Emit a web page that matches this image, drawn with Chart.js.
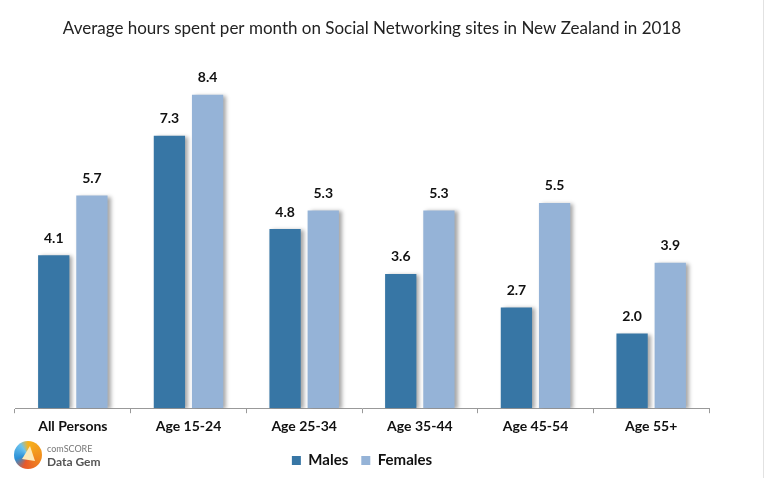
<!DOCTYPE html>
<html lang="en">
<head>
    <meta charset="UTF-8">
    <title>Social Networking hours NZ 2018</title>
    <script src="https://cdn.jsdelivr.net/npm/chart.js"></script>
    <style>
        html, body {
            margin: 0;
            padding: 0;
            background: #fff;
        }
        #wrap {
            width: 764px;
            height: 478px;
            position: relative;
            box-sizing: border-box;
            border-right: 1px solid #e2e2e2;
        }
    </style>
</head>
<body>
    <div id="wrap">
        <canvas id="chart"></canvas>
    </div>

    <script>
        // data
        const categories = ['All Persons', 'Age 15-24', 'Age 25-34', 'Age 35-44', 'Age 45-54', 'Age 55+'];
        const males = [4.1, 7.3, 4.8, 3.6, 2.7, 2.0];
        const females = [5.7, 8.4, 5.3, 5.3, 5.5, 3.9];
        const seriesNames = ['Males', 'Females'];
        const titleText = 'Average hours spent per month on Social Networking sites in New Zealand in 2018';

        const FONT = 'Lato, "Open Sans", sans-serif';

        // title drawn by hand so it sits where the original puts it
        const titlePlugin = {
            id: 'titleText',
            afterDraw(chart) {
                const ctx = chart.ctx;
                ctx.save();
                ctx.font = '17px ' + FONT;
                ctx.fillStyle = '#222';
                ctx.textAlign = 'center';
                ctx.textBaseline = 'middle';
                ctx.fillText(titleText, 372, 29);
                ctx.restore();
            }
        };

        // soft shadow behind the bars
        const shadowPlugin = {
            id: 'barShadow',
            beforeDatasetsDraw(chart) {
                const ctx = chart.ctx;
                ctx.save();
                ctx.shadowColor = 'rgba(0,0,0,0.35)';
                ctx.shadowBlur = 4;
                ctx.shadowOffsetX = 3;
                ctx.shadowOffsetY = 1;
            },
            afterDatasetsDraw(chart) {
                chart.ctx.restore();
            }
        };

        // value on top of every bar
        const valuePlugin = {
            id: 'valueLabels',
            afterDatasetsDraw(chart) {
                const ctx = chart.ctx;
                ctx.save();
                ctx.font = 'bold 14px ' + FONT;
                ctx.fillStyle = '#111';
                ctx.textAlign = 'center';
                ctx.textBaseline = 'bottom';
                chart.data.datasets.forEach((ds, i) => {
                    chart.getDatasetMeta(i).data.forEach((bar, j) => {
                        ctx.fillText(ds.data[j].toFixed(1), bar.x, bar.y - 10);
                    });
                });
                ctx.restore();
            }
        };

        // comScore Data Gem mark, bottom left
        const logoPlugin = {
            id: 'logo',
            afterDraw(chart) {
                const ctx = chart.ctx;
                const cx = 28, cy = 455, r = 14;
                ctx.save();
                const g = ctx.createConicGradient(-Math.PI / 2, cx, cy);
                g.addColorStop(0, '#f7b21c');
                g.addColorStop(0.3, '#f08a1d');
                g.addColorStop(0.55, '#e8582a');
                g.addColorStop(0.7, '#2a8fd6');
                g.addColorStop(0.9, '#6cc3ee');
                g.addColorStop(1, '#f7b21c');
                ctx.fillStyle = g;
                ctx.beginPath();
                ctx.arc(cx, cy, r, 0, Math.PI * 2);
                ctx.fill();
                ctx.fillStyle = '#fde9b8';
                ctx.beginPath();
                ctx.moveTo(cx + 2, cy - 9);
                ctx.lineTo(cx + 7, cy + 6);
                ctx.lineTo(cx - 6, cy + 4);
                ctx.closePath();
                ctx.fill();
                ctx.fillStyle = '#777';
                ctx.font = '9px ' + FONT;
                ctx.textBaseline = 'middle';
                ctx.fillText('comSCORE', 47, 449);
                ctx.fillStyle = '#555';
                ctx.font = 'bold 12px ' + FONT;
                ctx.fillText('Data Gem', 47, 462);
                ctx.restore();
            }
        };

        new Chart(document.getElementById('chart'), {
            type: 'bar',
            data: {
                labels: categories,
                datasets: [
                    {
                        label: seriesNames[0],
                        data: males,
                        backgroundColor: '#3776a5',
                        categoryPercentage: 0.66,
                        barPercentage: 0.82
                    },
                    {
                        label: seriesNames[1],
                        data: females,
                        backgroundColor: '#95b3d7',
                        categoryPercentage: 0.66,
                        barPercentage: 0.82
                    }
                ]
            },
            options: {
                responsive: true,
                maintainAspectRatio: false,
                animation: false,
                layout: {
                    padding: { top: 50, left: 15, right: 54, bottom: 0 }
                },
                plugins: {
                    title: { display: false },
                    tooltip: { enabled: false },
                    legend: {
                        position: 'bottom',
                        labels: {
                            boxWidth: 9,
                            boxHeight: 9,
                            padding: 13,
                            color: '#111',
                            font: { family: FONT, size: 15, weight: 'bold' }
                        }
                    }
                },
                scales: {
                    x: {
                        grid: {
                            display: true,
                            drawOnChartArea: false,
                            drawTicks: true,
                            tickLength: 5,
                            color: '#999'
                        },
                        border: { display: true, color: '#999', width: 1 },
                        ticks: {
                            color: '#111',
                            padding: 5,
                            font: { family: FONT, size: 14, weight: 'bold' }
                        }
                    },
                    y: {
                        display: false,
                        min: 0,
                        max: 9.6
                    }
                }
            },
            plugins: [shadowPlugin, valuePlugin, titlePlugin, logoPlugin]
        });
    </script>
</body>
</html>
